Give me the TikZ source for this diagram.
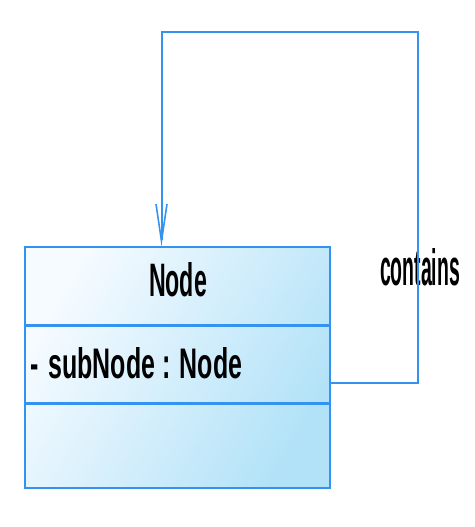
\documentclass[tikz,border=0pt]{standalone}
\usepackage{fontspec}
\usepackage{graphicx}
\setmainfont{Liberation Sans}
\usetikzlibrary{arrows.meta,calc}
\definecolor{umlblue}{RGB}{52,146,240}
\definecolor{filllight}{RGB}{246,251,255}
\definecolor{filldark}{RGB}{178,226,248}
\tikzset{
  classbox/.style={inner sep=0pt, minimum width=305pt, minimum height=241pt,
    left color=filllight, right color=filldark, shading angle=60},
  boxline/.style={draw=umlblue, line width=2.2pt},
  conn/.style={draw=umlblue, line width=2pt,
    -{Straight Barb[length=37pt,width=11pt,line width=1.6pt]}},
  txt/.style={inner sep=0pt, text=black, font=\bfseries}
}
\begin{document}
\begin{tikzpicture}[x=1pt,y=1pt]
\useasboundingbox (0,0) rectangle (474,-527);
\node[classbox] (cls) at (177.5,-367.5) {};
\draw[boxline] (cls.north west) rectangle (cls.south east);
\coordinate (d1l) at (25,-325.5);
\coordinate (d1r) at (330,-325.5);
\coordinate (d2l) at (25,-403.5);
\coordinate (d2r) at (330,-403.5);
\draw[boxline] (d1l) -- (d1r);
\draw[boxline] (d2l) -- (d2r);
\node[txt, anchor=base] (title) at (178,-296) {\resizebox{58pt}{34pt}{Node}};
\node[txt, anchor=base west] (attr) at (30,-378) {\resizebox{212pt}{31pt}{-\hspace{0.12em} subNode : Node}};
\node[txt, anchor=base] (lbl) at (420,-285) {\resizebox{80pt}{37pt}{contains}};
\coordinate (s) at (330,-382.7);
\coordinate (c1) at (417.5,-382.7);
\coordinate (c2) at (417.5,-32.3);
\coordinate (c3) at (161.5,-32.3);
\coordinate (e) at (161.5,-246.5);
\draw[conn] (s) -- (c1) -- (c2) -- (c3) -- (e);
\end{tikzpicture}
\end{document}
